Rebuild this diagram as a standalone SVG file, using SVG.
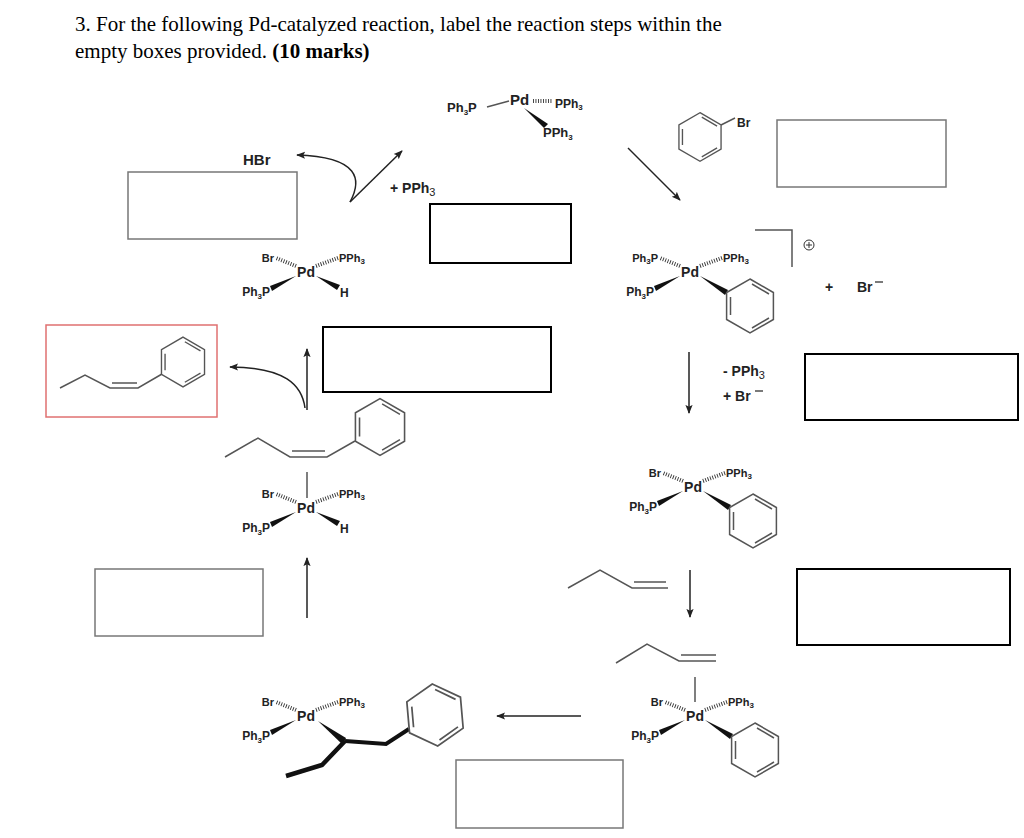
<svg xmlns="http://www.w3.org/2000/svg" xmlns:xlink="http://www.w3.org/1999/xlink" width="1024" height="838" viewBox="0 0 1024 838">
<style>
.t{font-family:"Liberation Serif",serif;font-size:21px;fill:#000}
.c{font-family:"Liberation Sans",Arial,sans-serif;font-weight:bold;fill:#222}
.s{font-size:8px}
.bond{stroke:#555;stroke-width:1.5;fill:none}
.hash{stroke:#333;stroke-width:4;stroke-dasharray:0.9 1.6;fill:none}
.box{fill:none;stroke:#777;stroke-width:1.5}
.boxk{fill:none;stroke:#000;stroke-width:2}
.arr{stroke:#222;stroke-width:1.5;fill:none;marker-end:url(#ah)}
</style>
<defs>
<marker id="ah" viewBox="0 0 10 10" refX="9" refY="5" markerWidth="9" markerHeight="9" markerUnits="userSpaceOnUse" orient="auto"><path d="M0,1 L10,5 L0,9 L2,5 Z" fill="#222"/></marker>
<g id="bz"><polygon class="bond" points="0,-27 23.4,-13.5 23.4,13.5 0,27 -23.4,13.5 -23.4,-13.5"/><path class="bond" d="M2,-22 L19,-12 M19,12 L2,22 M-19.5,9 L-19.5,-9"/></g>
<g id="core">
<line class="hash" x1="-10" y1="-6" x2="-30" y2="-14"/>
<line class="hash" x1="10" y1="-6" x2="32" y2="-14"/>
<polygon points="-10,4 -36,14 -34,19" fill="#111"/>
<text class="c" x="0" y="5" font-size="14" text-anchor="middle">Pd</text>
<text class="c" x="33" y="-10" font-size="11">PPh<tspan class="s" dy="2">3</tspan></text>
<text class="c" x="-36" y="24" font-size="12" text-anchor="end">Ph<tspan class="s" dy="3">3</tspan><tspan dy="-3">P</tspan></text>
</g>
<g id="wedgeH"><polygon points="10,4 34,13 31,18" fill="#111"/><text class="c" x="34" y="25" font-size="12">H</text></g>
<g id="wedgePh"><polygon points="10,4 38,18 35,23" fill="#111"/><use xlink:href="#bz" x="60" y="34"/></g>
</defs>
<rect width="1024" height="838" fill="#fff"/>
<text class="t" x="75" y="31">3. For the following Pd-catalyzed reaction, label the reaction steps within the</text>
<text class="t" x="75" y="58">empty boxes provided. <tspan font-weight="bold">(10 marks)</tspan></text>

<g id="boxes">
<rect class="box" x="777" y="120" width="169" height="67"/>
<rect class="box" x="128" y="172" width="169" height="67"/>
<rect class="boxk" x="430" y="204" width="141" height="59"/>
<rect class="boxk" x="323" y="327" width="228" height="65"/>
<rect class="boxk" x="805" y="354" width="213" height="66"/>
<rect class="box" x="95" y="569" width="168" height="67"/>
<rect class="boxk" x="797" y="569" width="213" height="76"/>
<rect class="box" x="456" y="760" width="167" height="68"/>
<rect x="46" y="325" width="171" height="92" fill="none" stroke="#e07070" stroke-width="1.5"/>
</g>

<g id="pd0">
<text class="c" x="447" y="112" font-size="13">Ph<tspan class="s" dy="3">3</tspan><tspan dy="-3">P</tspan></text>
<line class="bond" x1="487" y1="107" x2="509" y2="101"/>
<text class="c" x="510" y="105" font-size="15">Pd</text>
<line class="hash" x1="533" y1="101" x2="553" y2="101"/>
<text class="c" x="555" y="108" font-size="12">PPh<tspan class="s" dy="2">3</tspan></text>
<polygon points="524,108 548,124 544,128" fill="#111"/>
<text class="c" x="543" y="137" font-size="13">PPh<tspan class="s" dy="3">3</tspan></text>
</g>

<g id="bromobenzene">
<use xlink:href="#bz" transform="translate(700,137) scale(0.9)"/>
<line class="bond" x1="721" y1="125" x2="735" y2="118"/>
<text class="c" x="737" y="127" font-size="12">Br</text>
</g>

<g id="hbr">
<text class="c" x="243" y="165" font-size="15">HBr</text>
<text class="c" x="390" y="193" font-size="14">+ PPh<tspan font-size="11" font-weight="normal" dy="3">3</tspan></text>
</g>

<g id="cation">
<use xlink:href="#core" x="690" y="272"/>
<use xlink:href="#wedgePh" x="690" y="272"/>
<text class="c" x="658" y="262" font-size="11" text-anchor="end">Ph<tspan class="s" dy="2">3</tspan><tspan dy="-2">P</tspan></text>
<path d="M755,230 L792,230 L792,267" class="bond"/>
<circle cx="809" cy="245" r="5" fill="none" stroke="#333" stroke-width="1"/>
<path d="M806,245 h6 M809,242 v6" stroke="#333" stroke-width="1"/>
<text class="c" x="825" y="292" font-size="14">+</text>
<text class="c" x="857" y="292" font-size="14">Br</text>
<line x1="875" y1="282" x2="883" y2="282" stroke="#222" stroke-width="1.2"/>
</g>

<g id="pdbr">
<use xlink:href="#core" x="693" y="487"/>
<use xlink:href="#wedgePh" x="693" y="487"/>
<text class="c" x="661" y="477" font-size="11" text-anchor="end">Br</text>
<text class="c" x="723" y="376" font-size="14">- PPh<tspan font-size="11" font-weight="normal" dy="3">3</tspan></text>
<text class="c" x="723" y="401" font-size="14">+ Br</text>
<line x1="755" y1="391" x2="763" y2="391" stroke="#222" stroke-width="1.2"/>
</g>

<g id="butene">
<polyline class="bond" points="568,588 600,570 632,588 668,588"/>
<line class="bond" x1="634" y1="582" x2="666" y2="582"/>
</g>

<g id="alkenecomplex">
<polyline class="bond" points="616,663 647,644 679,661 716,661"/>
<line class="bond" x1="681" y1="655" x2="716" y2="655"/>
<line class="bond" x1="695" y1="677" x2="695" y2="702"/>
<use xlink:href="#core" x="695" y="716"/>
<use xlink:href="#wedgePh" x="695" y="716"/>
<text class="c" x="663" y="706" font-size="11" text-anchor="end">Br</text>
</g>

<g id="alkyl">
<use xlink:href="#core" x="306" y="716"/>
<text class="c" x="274" y="706" font-size="11" text-anchor="end">Br</text>
<polygon points="318,721 346,738 343,745" fill="#111"/>
<polyline points="345,741 386,744 409,729" fill="none" stroke="#111" stroke-width="4"/>
<polyline points="345,741 322,765 286,776" fill="none" stroke="#111" stroke-width="4.5"/>
<use xlink:href="#bz" transform="translate(435,715) rotate(-5) scale(1.15)"/>
</g>

<g id="hydride1">
<use xlink:href="#core" x="306" y="272"/>
<use xlink:href="#wedgeH" x="306" y="272"/>
<text class="c" x="274" y="262" font-size="11" text-anchor="end">Br</text>
</g>

<g id="hydride2">
<polyline class="bond" points="225,457 258,438 290,457 327,457 355,441"/>
<line class="bond" x1="292" y1="451" x2="325" y2="451"/>
<use xlink:href="#bz" transform="translate(380,427) scale(1.05)"/>
<line class="bond" x1="307" y1="472" x2="307" y2="498"/>
<use xlink:href="#core" x="306" y="508"/>
<use xlink:href="#wedgeH" x="306" y="508"/>
<text class="c" x="274" y="498" font-size="11" text-anchor="end">Br</text>
</g>

<g id="product">
<polyline class="bond" points="60,388 85,375 110,388 138,388 162,374"/>
<line class="bond" x1="112" y1="383" x2="137" y2="383"/>
<use xlink:href="#bz" transform="translate(183,362) scale(0.92)"/>
</g>

<g id="connectors">
<path class="arr" d="M628,148 L680,200"/>
<path class="arr" d="M689,352 L689,413"/>
<path class="arr" d="M690,570 L690,617"/>
<path class="arr" d="M581,716 L497,716"/>
<path class="arr" d="M307,618 L307,558"/>
<path class="arr" d="M307,410 L307,349"/>
<path class="arr" d="M305,408 C302,385 285,367 230,367"/>
<path class="arr" d="M350,202 L402,151"/>
<path class="arr" d="M350,202 C362,180 360,157 297,155"/>
</g>
</svg>
